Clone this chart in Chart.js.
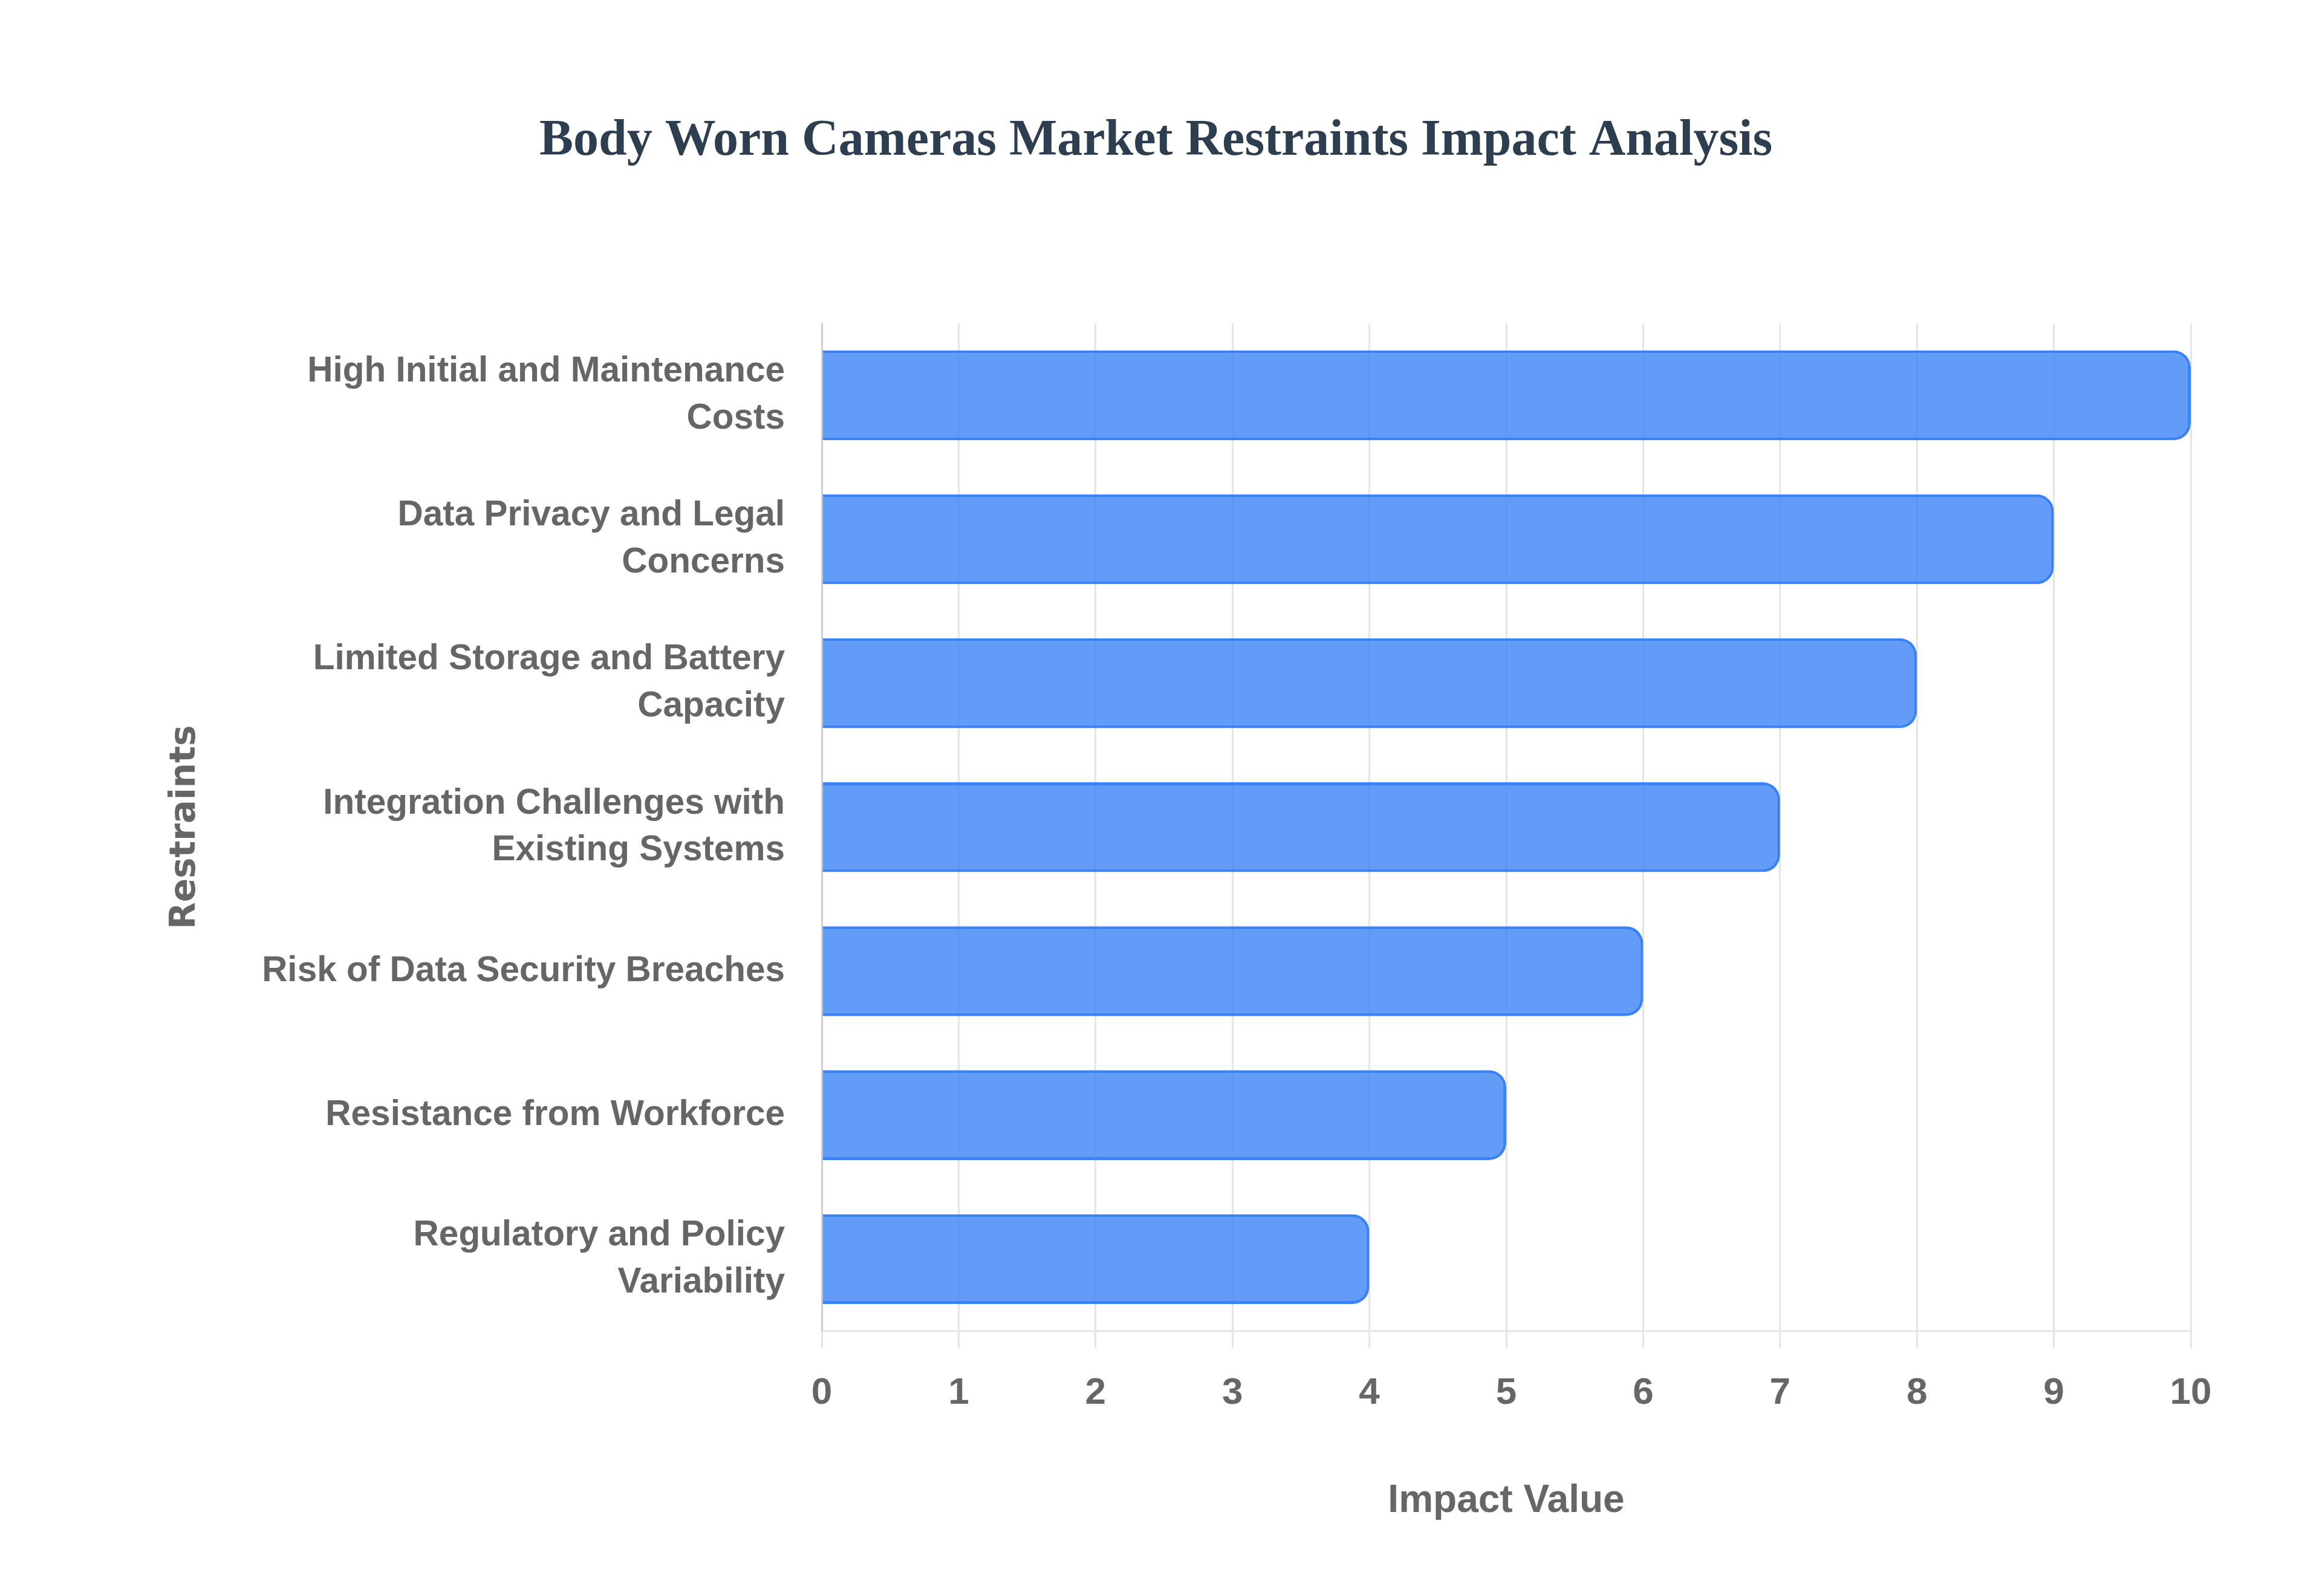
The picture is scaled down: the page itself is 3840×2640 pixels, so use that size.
<!DOCTYPE html>
<html>
<head>
<meta charset="utf-8">
<title>Body Worn Cameras Market Restraints Impact Analysis</title>
<script src="https://cdn.jsdelivr.net/npm/chart.js@4.4.1/dist/chart.umd.min.js"></script>
<style>
    html, body { margin: 0; padding: 0; background: #ffffff; }
    canvas { display: block; }
</style>
</head>
<body>
<canvas id="restraintsChart" width="3840" height="2640"></canvas>
<script>
// Restraint categories (multi-line labels as shown on the axis)
const restraints = [
    ['High Initial and Maintenance', 'Costs'],
    ['Data Privacy and Legal', 'Concerns'],
    ['Limited Storage and Battery', 'Capacity'],
    ['Integration Challenges with', 'Existing Systems'],
    'Risk of Data Security Breaches',
    'Resistance from Workforce',
    ['Regulatory and Policy', 'Variability']
];

// Impact value per restraint
const impactValues = [10, 9, 8, 7, 6, 5, 4];

// Axis range
const impactMin = 0;
const impactMax = 10;
const impactStep = 1;

const sansFont = "'Liberation Sans', Arial, Helvetica, sans-serif";
const gridColor = 'rgba(0, 0, 0, 0.1)';
const textColor = '#666666';

// Initialize chart
function initializeChart() {
    const ctx = document.getElementById('restraintsChart');
    if (!ctx) return;

    new Chart(ctx, {
        type: 'bar',
        data: {
            labels: restraints,
            datasets: [{
                label: 'Impact Value',
                data: impactValues,
                backgroundColor: 'rgba(59, 130, 246, 0.8)',
                borderColor: '#3b82f6',
                borderWidth: 5,
                borderRadius: 28,
                categoryPercentage: 0.8,
                barPercentage: 0.78
            }]
        },
        options: {
            indexAxis: 'y',
            responsive: false,
            animation: false,
            devicePixelRatio: 1,
            layout: {
                padding: { top: 40, left: 200, right: 217, bottom: 40 }
            },
            plugins: {
                legend: { display: false },
                tooltip: { enabled: false },
                title: {
                    display: true,
                    text: 'Body Worn Cameras Market Restraints Impact Analysis',
                    color: '#2c3e50',
                    font: {
                        family: "'Liberation Serif', 'Times New Roman', serif",
                        size: 84,
                        weight: 'bold'
                    },
                    padding: { top: 144, bottom: 250 }
                }
            },
            scales: {
                x: {
                    min: impactMin,
                    max: impactMax,
                    grid: {
                        color: gridColor,
                        lineWidth: 3,
                        tickLength: 28
                    },
                    border: { color: gridColor, width: 3 },
                    ticks: {
                        stepSize: impactStep,
                        color: textColor,
                        padding: 38,
                        font: { family: sansFont, size: 62, weight: 'bold' }
                    },
                    title: {
                        display: true,
                        text: 'Impact Value',
                        color: textColor,
                        font: { family: sansFont, size: 64, weight: 'bold' },
                        padding: { top: 65, bottom: 78 }
                    }
                },
                y: {
                    grid: { display: false },
                    border: { color: gridColor, width: 3 },
                    ticks: {
                        color: textColor,
                        padding: 53,
                        font: { family: sansFont, size: 58.5, weight: 'bold', lineHeight: 1.33 }
                    },
                    title: {
                        display: true,
                        text: 'Restraints',
                        color: textColor,
                        font: { family: "'DejaVu Sans', Verdana, sans-serif", size: 58, weight: 'bold' },
                        padding: { top: 72, bottom: 20 }
                    },
                    afterFit: function (scale) {
                        // keep the plot's left edge where the reference has it
                        scale.width = 1159;
                    }
                }
            }
        }
    });
}

initializeChart();
</script>
</body>
</html>
